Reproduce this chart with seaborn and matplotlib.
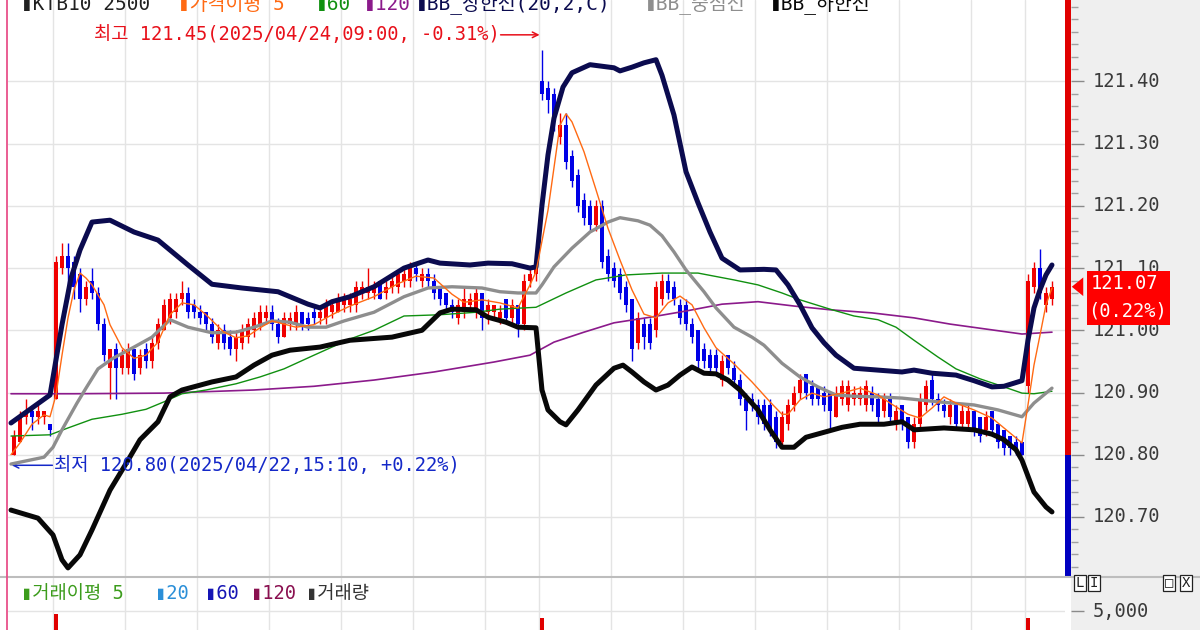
import matplotlib
matplotlib.use("Agg")
import matplotlib.pyplot as plt
import matplotlib.transforms as mtransforms
from matplotlib.patches import Rectangle, Polygon
from matplotlib.lines import Line2D
import numpy as np
import seaborn as sns

# KTB10 5-minute candles: 04/22 15:10 .. 04/25 (index 0 = 04/22 15:10)
opens = [
    120.80, 120.82, 120.86, 120.87, 120.86, 120.86, 120.85,
    120.89, 121.10, 121.12, 121.11, 121.09, 121.05, 121.08, 121.06, 121.01, 120.94,
    120.97, 120.94, 120.94, 120.97, 120.94, 120.97, 120.95, 120.98, 121.00, 121.02,
    121.03, 121.05, 121.06, 121.04, 121.03, 121.03, 121.01, 120.98, 121.00, 120.99,
    120.97, 120.98, 120.99, 121.00, 121.01, 121.02, 121.03, 121.01, 120.99, 121.01,
    121.01, 121.03, 121.02, 121.03, 121.02, 121.02, 121.03, 121.03, 121.04, 121.04,
    121.04, 121.06, 121.06, 121.06, 121.08, 121.06, 121.07, 121.07, 121.08, 121.08,
    121.10, 121.08, 121.09, 121.08, 121.07, 121.06, 121.04, 121.02, 121.03, 121.04,
    121.03, 121.06, 121.03, 121.03, 121.02, 121.05, 121.02, 121.04, 121.01, 121.08,
    121.09,
    121.40, 121.39, 121.38, 121.31, 121.33, 121.28, 121.25, 121.21, 121.20, 121.17,
    121.20, 121.12, 121.10, 121.09, 121.07, 121.05, 120.98, 121.01, 121.01, 121.00,
    121.05, 121.08, 121.07, 121.04, 121.04, 121.01, 121.00, 120.97, 120.96, 120.96,
    120.92, 120.96, 120.94, 120.92, 120.89, 120.89, 120.88, 120.88, 120.88, 120.86,
    120.82, 120.85, 120.88, 120.90, 120.93, 120.91, 120.91, 120.90, 120.90, 120.86,
    120.89, 120.88, 120.89, 120.89, 120.88, 120.90, 120.89, 120.87, 120.89, 120.85,
    120.88, 120.86, 120.82, 120.85, 120.88, 120.92, 120.89, 120.88, 120.86, 120.88,
    120.85, 120.85, 120.87, 120.86, 120.84, 120.87, 120.85, 120.84, 120.83, 120.82,
    120.82,
    120.91, 121.07, 121.10, 121.04, 121.05,
]
highs = [
    120.84, 120.87, 120.89, 120.88, 120.88, 120.87, 120.85,
    121.12, 121.14, 121.14, 121.12, 121.10, 121.08, 121.10, 121.07, 121.02, 120.97,
    120.98, 120.97, 120.98, 120.97, 120.97, 120.98, 120.99, 121.02, 121.05, 121.06,
    121.06, 121.08, 121.07, 121.05, 121.04, 121.03, 121.02, 121.01, 121.01, 121.00,
    121.00, 121.01, 121.02, 121.03, 121.04, 121.04, 121.04, 121.02, 121.03, 121.03,
    121.04, 121.03, 121.03, 121.04, 121.04, 121.05, 121.05, 121.06, 121.06, 121.06,
    121.08, 121.08, 121.10, 121.08, 121.08, 121.08, 121.09, 121.09, 121.10, 121.11,
    121.11, 121.10, 121.10, 121.09, 121.07, 121.06, 121.05, 121.05, 121.07, 121.06,
    121.07, 121.06, 121.05, 121.04, 121.04, 121.05, 121.05, 121.04, 121.09, 121.10,
    121.10,
    121.45, 121.40, 121.39, 121.35, 121.35, 121.29, 121.26, 121.22, 121.21, 121.21,
    121.21, 121.13, 121.11, 121.10, 121.08, 121.05, 121.03, 121.02, 121.02, 121.08,
    121.09, 121.09, 121.08, 121.05, 121.05, 121.02, 121.00, 120.98, 120.97, 120.97,
    120.96, 120.96, 120.95, 120.93, 120.90, 120.90, 120.89, 120.89, 120.89, 120.87,
    120.87, 120.89, 120.91, 120.93, 120.93, 120.92, 120.91, 120.91, 120.90, 120.91,
    120.92, 120.92, 120.91, 120.91, 120.92, 120.91, 120.90, 120.90, 120.90, 120.88,
    120.88, 120.86, 120.86, 120.90, 120.92, 120.93, 120.90, 120.89, 120.89, 120.88,
    120.88, 120.88, 120.87, 120.86, 120.87, 120.87, 120.85, 120.84, 120.83, 120.83,
    120.82,
    121.09, 121.11, 121.13, 121.07, 121.08,
]
lows = [
    120.80, 120.82, 120.85, 120.84, 120.85, 120.85, 120.83,
    120.89, 121.09, 121.05, 121.05, 121.03, 121.04, 121.05, 121.00, 120.95, 120.89,
    120.89, 120.93, 120.93, 120.92, 120.93, 120.94, 120.94, 120.97, 121.00, 121.01,
    121.02, 121.04, 121.02, 121.02, 121.01, 121.00, 120.98, 120.97, 120.97, 120.96,
    120.95, 120.97, 120.98, 120.99, 121.00, 121.01, 121.00, 120.98, 120.99, 121.00,
    121.00, 121.00, 121.00, 121.01, 121.01, 121.01, 121.02, 121.03, 121.03, 121.03,
    121.03, 121.05, 121.05, 121.05, 121.05, 121.05, 121.06, 121.06, 121.07, 121.07,
    121.08, 121.07, 121.07, 121.05, 121.04, 121.03, 121.02, 121.01, 121.02, 121.03,
    121.02, 121.00, 121.01, 121.02, 121.01, 121.01, 121.01, 120.99, 121.00, 121.07,
    121.08,
    121.37, 121.35, 121.32, 121.30, 121.26, 121.23, 121.19, 121.17, 121.16, 121.16,
    121.10, 121.08, 121.07, 121.05, 121.03, 120.95, 120.97, 120.97, 120.97, 120.99,
    121.04, 121.05, 121.04, 121.01, 121.00, 120.98, 120.94, 120.94, 120.93, 120.93,
    120.91, 120.93, 120.91, 120.88, 120.84, 120.87, 120.85, 120.84, 120.83, 120.81,
    120.81, 120.84, 120.87, 120.89, 120.89, 120.88, 120.88, 120.87, 120.84, 120.86,
    120.88, 120.87, 120.88, 120.88, 120.87, 120.87, 120.85, 120.86, 120.85, 120.84,
    120.84, 120.81, 120.81, 120.84, 120.87, 120.88, 120.87, 120.86, 120.85, 120.84,
    120.84, 120.84, 120.83, 120.82, 120.83, 120.83, 120.81, 120.80, 120.80, 120.80,
    120.80,
    120.90, 121.06, 121.05, 121.03, 121.04,
]
closes = [
    120.83, 120.86, 120.87, 120.86, 120.87, 120.87, 120.84,
    121.11, 121.12, 121.10, 121.07, 121.05, 121.07, 121.06, 121.01, 120.96, 120.97,
    120.94, 120.96, 120.97, 120.93, 120.96, 120.95, 120.98, 121.01, 121.04, 121.05,
    121.05, 121.06, 121.03, 121.03, 121.02, 121.01, 120.99, 121.00, 120.98, 120.97,
    120.99, 121.00, 121.01, 121.02, 121.03, 121.03, 121.01, 120.99, 121.02, 121.02,
    121.03, 121.01, 121.01, 121.02, 121.03, 121.04, 121.04, 121.05, 121.05, 121.05,
    121.07, 121.07, 121.07, 121.07, 121.05, 121.07, 121.08, 121.09, 121.09, 121.10,
    121.09, 121.09, 121.08, 121.06, 121.05, 121.04, 121.03, 121.04, 121.05, 121.05,
    121.06, 121.02, 121.04, 121.04, 121.03, 121.02, 121.04, 121.01, 121.08, 121.09,
    121.10,
    121.38, 121.37, 121.34, 121.33, 121.27, 121.24, 121.20, 121.18, 121.17, 121.20,
    121.11, 121.09, 121.08, 121.06, 121.04, 120.97, 121.02, 120.99, 120.98, 121.07,
    121.08, 121.06, 121.05, 121.02, 121.01, 120.99, 120.95, 120.95, 120.94, 120.94,
    120.95, 120.94, 120.92, 120.89, 120.87, 120.88, 120.86, 120.85, 120.84, 120.82,
    120.86, 120.88, 120.90, 120.92, 120.90, 120.89, 120.89, 120.88, 120.87, 120.90,
    120.91, 120.91, 120.90, 120.90, 120.91, 120.88, 120.86, 120.89, 120.86, 120.87,
    120.85, 120.82, 120.85, 120.89, 120.91, 120.89, 120.88, 120.87, 120.88, 120.85,
    120.87, 120.87, 120.84, 120.83, 120.86, 120.84, 120.82, 120.81, 120.81, 120.81,
    120.80,
    121.08, 121.10, 121.06, 121.06, 121.07,
]

bb_up_idx = [-0.5, 6, 8, 9.5, 11, 13, 16, 20, 24, 29, 33, 38, 44, 49, 51, 53, 56, 60, 65, 69,
             71, 76, 79, 83, 86, 87, 88, 89, 90, 91.5, 93, 96, 100, 101, 103, 105, 107, 108, 110, 112,
             114, 116, 118, 121, 125, 127, 129, 131, 133, 135, 137, 140, 144, 148, 150, 153, 157, 160,
             163, 165, 168, 169, 170, 171, 172, 173]
bb_up = [120.851, 120.896, 121.009, 121.084, 121.129, 121.174, 121.177, 121.158, 121.145, 121.105,
         121.074, 121.068, 121.062, 121.042, 121.036, 121.046, 121.054, 121.070, 121.100, 121.113,
         121.108, 121.105, 121.108, 121.107, 121.100, 121.102, 121.201, 121.282, 121.341, 121.391,
         121.414, 121.427, 121.422, 121.417, 121.423, 121.430, 121.435, 121.410, 121.346, 121.255,
         121.205, 121.158, 121.116, 121.097, 121.098, 121.097, 121.073, 121.041, 121.004, 120.980,
         120.960, 120.939, 120.936, 120.933, 120.936, 120.931, 120.928, 120.919, 120.909, 120.910,
         120.919, 120.984, 121.036, 121.065, 121.089, 121.105]

bb_mid_idx = [-0.5, 5, 6.5, 8, 10.5, 12, 14, 16.5, 20, 23, 26, 29, 33, 37, 40, 43, 46, 49, 52, 55,
              60, 65, 69, 73, 78, 81, 84, 87, 88, 90, 93, 96, 99, 101, 104, 106, 108, 110, 112, 115,
              117, 120, 123, 125, 128, 131, 134, 137, 140, 144, 148, 154, 160, 164, 168, 170, 173]
bb_mid = [120.785, 120.796, 120.812, 120.840, 120.883, 120.907, 120.938, 120.955, 120.973, 120.989,
          121.017, 121.005, 120.996, 120.997, 121.005, 121.015, 121.013, 121.005, 121.005, 121.015,
          121.029, 121.054, 121.068, 121.070, 121.068, 121.062, 121.060, 121.060, 121.073, 121.102,
          121.132, 121.158, 121.174, 121.181, 121.176, 121.169, 121.152, 121.126, 121.097, 121.062,
          121.036, 121.005, 120.989, 120.976, 120.947, 120.925, 120.909, 120.896, 120.894, 120.893,
          120.891, 120.885, 120.880, 120.872, 120.861, 120.883, 120.907]

bb_lo_idx = [-0.5, 4, 6.5, 8, 9, 11, 13, 16, 19, 21, 24, 26, 28, 33, 37, 40, 43, 46, 51, 56,
             63, 68, 71, 73, 77, 79, 82, 84, 87, 88, 89, 91, 92, 94, 97, 100, 101.5, 103, 105, 107,
             109, 111, 113, 115, 117, 119, 121, 124, 126, 128, 130, 132, 135, 138, 141, 145, 148, 150,
             155, 160, 163, 165, 167, 168, 170, 172, 173]
bb_lo = [120.711, 120.698, 120.671, 120.631, 120.618, 120.639, 120.679, 120.743, 120.791, 120.824,
         120.853, 120.893, 120.904, 120.917, 120.925, 120.944, 120.960, 120.968, 120.973, 120.984,
         120.989, 121.000, 121.028, 121.034, 121.033, 121.021, 121.013, 121.005, 121.004, 120.904,
         120.872, 120.853, 120.848, 120.872, 120.912, 120.939, 120.944, 120.933, 120.917, 120.904,
         120.912, 120.928, 120.941, 120.931, 120.930, 120.920, 120.904, 120.872, 120.840, 120.812,
         120.812, 120.828, 120.836, 120.844, 120.849, 120.849, 120.853, 120.840, 120.843, 120.840,
         120.833, 120.824, 120.808, 120.791, 120.740, 120.716, 120.708]

ma5_idx = [-0.5, 1, 3, 5, 6, 7, 8, 9, 10, 11, 12, 13, 15, 16, 18, 20, 22, 24, 26, 28,
           30, 32, 35, 37, 39, 41, 43, 45, 47, 50, 53, 56, 60, 64, 67, 70, 73, 75, 78, 81,
           84, 86, 87, 89, 91, 92, 93, 95, 97, 99, 101, 103, 105, 107, 109, 111, 113, 115, 117, 120,
           123, 126, 128, 129, 131, 133, 135, 138, 141, 144, 146, 149, 151, 153, 155, 157, 160, 163,
           165, 167, 168, 169, 170, 171, 172, 173]
ma5 = [120.800, 120.819, 120.849, 120.864, 120.861, 120.896, 120.960, 121.020, 121.065, 121.092,
       121.084, 121.073, 121.041, 121.009, 120.972, 120.955, 120.960, 120.981, 121.025, 121.044,
       121.041, 121.025, 120.997, 120.988, 120.991, 121.004, 121.015, 121.010, 121.005, 121.009,
       121.025, 121.039, 121.054, 121.075, 121.087, 121.084, 121.058, 121.045, 121.049, 121.044,
       121.036, 121.073, 121.094, 121.193, 121.330, 121.348, 121.335, 121.287, 121.226, 121.164,
       121.113, 121.065, 121.026, 121.020, 121.044, 121.055, 121.041, 121.004, 120.972, 120.946,
       120.917, 120.885, 120.865, 120.865, 120.888, 120.899, 120.893, 120.899, 120.907, 120.896,
       120.883, 120.865, 120.859, 120.875, 120.893, 120.883, 120.872, 120.859, 120.843, 120.827,
       120.819, 120.880, 120.944, 120.992, 121.041, 121.068]

ma60_idx = [-0.5, 6, 9, 13, 18, 22, 25, 28, 32, 37, 41, 45, 50, 56, 60, 65, 71, 77, 81, 87,
            92, 97, 102, 108, 114, 120, 124, 128, 131, 136, 140, 144, 147, 150, 154, 157, 161, 165,
            168, 170, 173]
ma60 = [120.830, 120.832, 120.843, 120.857, 120.865, 120.873, 120.885, 120.898, 120.904, 120.914,
        120.925, 120.938, 120.960, 120.986, 121.000, 121.023, 121.025, 121.029, 121.034, 121.037,
        121.060, 121.081, 121.089, 121.092, 121.092, 121.081, 121.073, 121.060, 121.049, 121.034,
        121.023, 121.017, 121.005, 120.984, 120.957, 120.938, 120.922, 120.909, 120.899, 120.898,
        120.902]

ma120_idx = [-0.5, 10, 25, 40, 50, 60, 70, 80, 86, 90, 95, 100, 106, 112, 118, 124, 130, 136,
             143, 150, 156, 162, 168, 173]
ma120 = [120.898, 120.898, 120.899, 120.904, 120.910, 120.920, 120.933, 120.949, 120.960, 120.981,
         120.997, 121.012, 121.021, 121.031, 121.042, 121.046, 121.039, 121.033, 121.028, 121.020,
         121.010, 121.002, 120.994, 120.997]

vol_idx = [7, 88, 169]
vol = [4700, 4300, 4300]

price_ticks = [120.70, 120.80, 120.90, 121.00, 121.10, 121.20, 121.30, 121.40]
hour_lines = [6.5, 18.5, 30.5, 42.5, 54.5, 66.5, 78.5, 87.5, 99.5, 111.5, 123.5, 135.5, 147.5,
              159.5, 168.5]
last_price = 121.07
last_change = "0.22%"
prev_close = 120.80
high_note = "최고 121.45(2025/04/24,09:00, -0.31%)"
low_note = "최저 120.80(2025/04/22,15:10, +0.22%)"

top_legend = [(21, "▮KTB10 2500", "#202020"), (178, "▮가격이평 5", "#ff6a13"),
              (316, "▮60", "#109010"), (364, "▮120", "#8b1a8b"),
              (416, "▮BB_상한선(20,2,C)", "#0b0b4f"), (645, "▮BB_중심선", "#8e8e8e"),
              (770, "▮BB_하한선", "#080808")]
vol_legend = [(21, "▮거래이평 5", "#3c9c1c"), (155, "▮20", "#2b8fd8"), (205, "▮60", "#1515b5"),
              (251, "▮120", "#8a1050"), (306, "▮거래량", "#333333")]

# ---------------------------------------------------------------
sns.set_style("white")
plt.rcParams["font.family"] = ["DejaVu Sans Mono", "Noto Sans CJK KR", "DejaVu Sans"]
plt.rcParams["axes.unicode_minus"] = False

W, H = 1200, 630
RED, BLUE = "#f00000", "#0000e6"
GRID = "#e4e4e4"
FS = 13.5


def px(x0, y0, x1, y1):
    return [x0 / W, 1 - y1 / H, (x1 - x0) / W, (y1 - y0) / H]


def clean(a):
    a.set_xticks([])
    a.set_yticks([])
    for s in a.spines.values():
        s.set_visible(False)


fig = plt.figure(figsize=(W / 100, H / 100), dpi=100)
XLIM = (-1.0, 175.17)
YLIM = (120.605, 121.531)

# main price panel
ax = fig.add_axes(px(8, 0, 1065, 576))
ax.set_xlim(*XLIM)
ax.set_ylim(*YLIM)
clean(ax)
for t in price_ticks:
    ax.axhline(t, color=GRID, lw=1, zorder=0)
for h in hour_lines:
    ax.axvline(h, color=GRID, lw=1, zorder=0)

o = np.array(opens)
c = np.array(closes)
idx = np.arange(len(c))
cols = np.where(c >= o, RED, BLUE)
ax.vlines(idx, lows, highs, colors=cols, lw=1.0, zorder=2)
ax.bar(idx, np.maximum(np.abs(c - o), 0.003), bottom=np.minimum(o, c), width=0.62,
       color=cols, linewidth=0, zorder=2)

lines = [
    (ma120_idx, ma120, "#8b1a8b", 1.2, 3),
    (ma60_idx, ma60, "#109010", 1.0, 3),
    (bb_mid_idx, bb_mid, "#8e8e8e", 2.4, 4),
    (bb_lo_idx, bb_lo, "#080808", 3.6, 5),
    (bb_up_idx, bb_up, "#0b0b4f", 3.6, 6),
    (ma5_idx, ma5, "#ff6a13", 1.0, 7),
]
for xs, ys, col, lw, z in lines:
    sns.lineplot(x=xs, y=ys, ax=ax, color=col, linewidth=lw, zorder=z,
                 legend=False, estimator=None, sort=False)
ax.set_xlim(*XLIM)
ax.set_ylim(*YLIM)
ax.set_xlabel("")
ax.set_ylabel("")

# high / low notes
hy, ly = 121.475, 120.783
ax.text(81.0, hy, high_note, ha="right", va="center", color="#e8101a", fontsize=FS, zorder=8)
ax.annotate("", xy=(87.6, hy), xytext=(81.1, hy),
            arrowprops=dict(arrowstyle="->", color="#e8101a", lw=1.1, shrinkA=0, shrinkB=0))
ax.text(6.6, ly, low_note, ha="left", va="center", color="#1428c8", fontsize=FS, zorder=8)
ax.annotate("", xy=(-0.4, ly), xytext=(6.4, ly),
            arrowprops=dict(arrowstyle="->", color="#1428c8", lw=1.1, shrinkA=0, shrinkB=0))

# red / blue bar vs previous close
bax = fig.add_axes(px(1065, 0, 1071, 576))
bax.set_ylim(*YLIM)
bax.set_xlim(0, 1)
clean(bax)
bax.axhspan(prev_close, YLIM[1], color="#e00000", lw=0)
bax.axhspan(YLIM[0], prev_close, color="#0000c0", lw=0)

# right price scale
rax = fig.add_axes(px(1071, 0, 1200, 576))
rax.set_facecolor("#efefef")
rax.set_ylim(*YLIM)
rax.set_xlim(0, 1)
for s in rax.spines.values():
    s.set_visible(False)
rax.set_xticks([])
rax.set_yticks(price_ticks)
rax.set_yticks(np.arange(120.62, 121.53, 0.02), minor=True)
rax.tick_params(axis="y", which="major", direction="in", length=9, width=1, color="#8a8a8a",
                left=True, right=False, labelleft=False)
rax.tick_params(axis="y", which="minor", direction="in", length=5, width=1, color="#a0a0a0",
                left=True, right=False)
rtr = mtransforms.blended_transform_factory(rax.transAxes, rax.transData)
for t in price_ticks:
    rax.text(0.165, t, f"{t:.2f}", transform=rtr, va="center", ha="left", fontsize=FS,
             color="#3a3a3a")
rax.add_patch(Rectangle((0.124, last_price - 0.061), 0.643, 0.086, transform=rtr,
                        fc="#ff0000", ec="none", zorder=5))
rax.add_patch(Polygon([(0.006, last_price), (0.095, last_price + 0.015),
                       (0.095, last_price - 0.015)], closed=True, transform=rtr,
                      fc="#ff0000", ec="none", zorder=5))
rax.text(0.15, last_price + 0.006, f"{last_price:.2f}", transform=rtr, va="center",
         ha="left", fontsize=FS, color="white", zorder=6)
rax.text(0.13, last_price - 0.039, f"({last_change})", transform=rtr, va="center",
         ha="left", fontsize=FS, color="white", zorder=6)

# volume panel (only the top is visible)
VLIM = (3100, 8300)
vax = fig.add_axes(px(8, 578, 1065, 630))
vax.set_xlim(*XLIM)
vax.set_ylim(*VLIM)
clean(vax)
vax.axhline(5000, color=GRID, lw=1, zorder=0)
for h in hour_lines:
    vax.axvline(h, color=GRID, lw=1, zorder=0)
vax.bar(vol_idx, vol, width=0.6, color="#e00000", linewidth=0, zorder=2)

vrax = fig.add_axes(px(1071, 578, 1200, 630))
vrax.set_facecolor("#efefef")
vrax.set_ylim(*VLIM)
vrax.set_xlim(0, 1)
for s in vrax.spines.values():
    s.set_visible(False)
vrax.set_xticks([])
vrax.set_yticks([5000])
vrax.tick_params(axis="y", direction="in", length=9, width=1, color="#8a8a8a",
                 left=True, right=False, labelleft=False)
vtr = mtransforms.blended_transform_factory(vrax.transAxes, vrax.transData)
vrax.text(0.165, 5000, f"{5000:,}", transform=vtr, va="center", ha="left", fontsize=FS,
          color="#3a3a3a")

# panel frame lines
fig.add_artist(Line2D([0, 1], [1 - 577 / H] * 2, color="#bdbdbd", lw=1.5))
fig.add_artist(Line2D([7 / W] * 2, [0, 1], color="#e8508a", lw=1.3))

# legends
for x, s, col in top_legend:
    fig.text(x / W, 1 - 10 / H, s, color=col, fontsize=FS + 0.5, va="baseline", ha="left")
for x, s, col in vol_legend:
    fig.text(x / W, 1 - 594 / H, s, color=col, fontsize=FS, va="center", ha="left")

# little panel buttons
for x, s in [(1080, "L"), (1094, "I"), (1169, "□"), (1186, "X")]:
    fig.text(x / W, 1 - 583 / H, s, color="#222222", fontsize=10, ha="center", va="center",
             bbox=dict(boxstyle="square,pad=0.1", fc="white", ec="#222222", lw=0.9))

fig.savefig("out.png", dpi=100, facecolor="white")
